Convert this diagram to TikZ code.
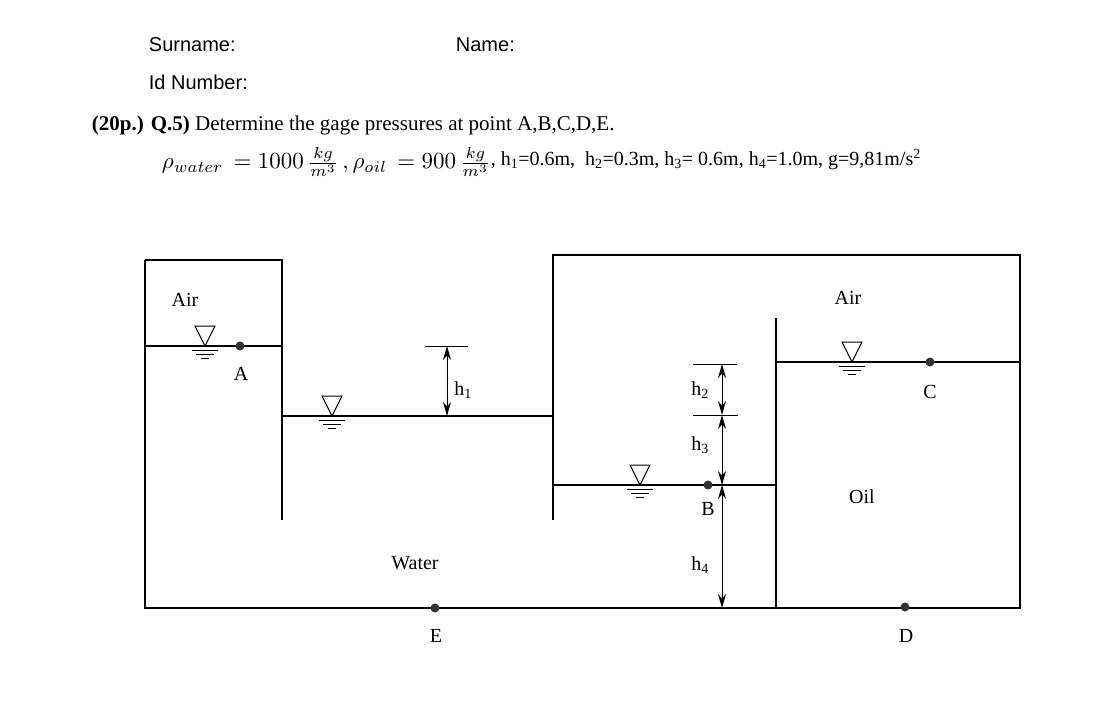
\documentclass[tikz,border=0pt]{standalone}
\usepackage{graphicx}
\usepackage{fontspec}
\usetikzlibrary{arrows.meta}
\setmainfont{Liberation Serif}
\newfontfamily\hsans{Liberation Sans}
\begin{document}
\begin{tikzpicture}[x=1pt,y=-1pt,line width=1.2pt,
  lbl/.style={font=\fontsize{20}{22}\selectfont},
  dot/.style={circle,fill=black!80,inner sep=0pt,minimum size=9pt},
  dim/.style={line width=1pt,<->,>={Stealth[length=14pt,width=8pt]}},
  tick/.style={line width=1pt}]
\useasboundingbox (0,0) rectangle (1110,707);
% header
\node[anchor=west,font=\hsans\fontsize{20}{24}\selectfont] (sn) at (145,45) {Surname:};
\node[anchor=west,font=\hsans\fontsize{20}{24}\selectfont] (nm) at (452,45) {Name:};
\node[anchor=west,font=\hsans\fontsize{20}{24}\selectfont] (id) at (145,82) {Id Number:};
\node[anchor=west,font=\fontsize{21}{24}\selectfont] (q) at (88,125) {\textbf{(20p.) Q.5)} Determine the gage pressures at point A,B,C,D,E.};
\node[anchor=west,font=\fontsize{20}{24}\selectfont] (f) at (158,162) {\raisebox{-0.15em}{\scalebox{2.3}{\fontsize{10}{12}\selectfont$\rho_{water}\,=1000\,\frac{kg}{m^3}\,,\rho_{oil}\,=900\,\frac{kg}{m^3}$}}, h\textsubscript{1}=0.6m,\ \ h\textsubscript{2}=0.3m, h\textsubscript{3}= 0.6m, h\textsubscript{4}=1.0m, g=9,81m/s\textsuperscript{2}};
% tanks
\draw (145,260) -- (282,260) -- (282,520);
\draw (145,260) -- (145,608) -- (1020,608) -- (1020,255) -- (553,255) -- (553,520);
\draw (776,318) -- (776,608);
% surfaces
\draw (145,346) -- (282,346);
\draw (282,416) -- (553,416);
\draw (553,485) -- (776,485);
\draw (776,362) -- (1020,362);
% free surface symbols
\foreach \n/\x/\y in {s1/205/346,s2/332/416,s3/640/485,s4/852/362}{
  \coordinate (\n) at (\x,\y);
  \draw[line width=1pt] (\x-10,\y-20) -- (\x+10,\y-20) -- (\x,\y) -- cycle;
  \draw[line width=0.8pt] (\x-13,\y+4) -- (\x+13,\y+4) (\x-9,\y+8) -- (\x+9,\y+8) (\x-4,\y+12) -- (\x+4,\y+12);
}
% points
\node[dot] (A) at (240,346) {};
\node[dot] (B) at (708,485) {};
\node[dot] (C) at (930,362) {};
\node[dot] (E) at (435,608) {};
\node[dot] (D) at (905,607) {};
\node[lbl] (lA) at (241,374) {A};
\node[lbl] (lB) at (708,509) {B};
\node[lbl] (lC) at (930,392) {C};
\node[lbl] (lE) at (436,636) {E};
\node[lbl] (lD) at (906,636) {D};
\node[lbl] (air1) at (185,300) {Air};
\node[lbl] (air2) at (848,298) {Air};
\node[lbl] (wat) at (415,563) {Water};
\node[lbl] (oil) at (862,497) {Oil};
% dimensions
\coordinate (t1) at (447,346); \coordinate (b1) at (447,416);
\draw[tick] (425,346) -- (468,346);
\draw[dim] (t1) -- (b1);
\node[lbl] (h1) at (463,390) {h\textsubscript{1}};
\coordinate (t2) at (722,364); \coordinate (m2) at (722,415);
\coordinate (m3) at (722,485); \coordinate (b4) at (722,608);
\draw[tick] (693,364) -- (737,364) (693,415) -- (738,415);
\draw[dim] (t2) -- (m2);
\draw[dim] (m2) -- (m3);
\draw[dim] (m3) -- (b4);
\node[lbl] (h2) at (700,390) {h\textsubscript{2}};
\node[lbl] (h3) at (700,445) {h\textsubscript{3}};
\node[lbl] (h4) at (700,565) {h\textsubscript{4}};
\end{tikzpicture}
\end{document}
